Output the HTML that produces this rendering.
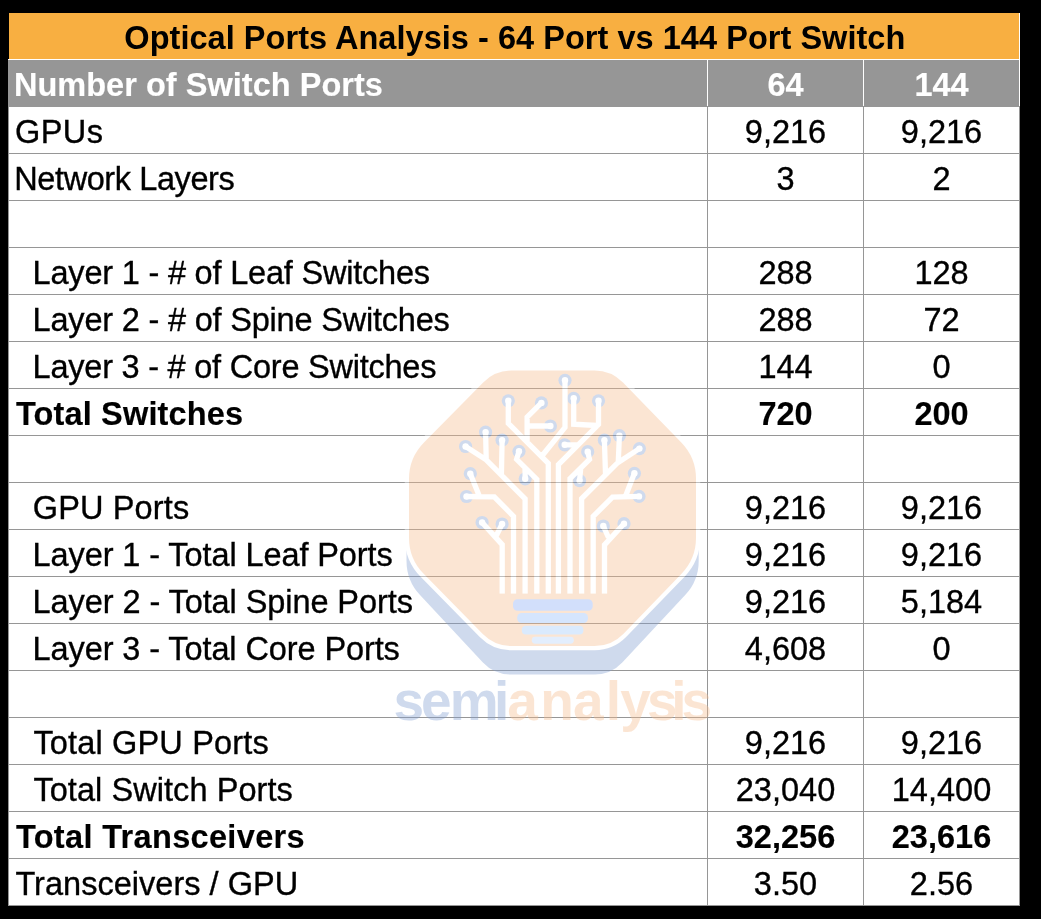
<!DOCTYPE html>
<html><head><meta charset="utf-8"><title>Optical Ports Analysis</title>
<style>
html,body{margin:0;padding:0;background:#000;}
body{width:1041px;height:919px;position:relative;overflow:hidden;font-family:"Liberation Sans",sans-serif;color:#000;}
#sheet{position:absolute;left:8px;top:13px;width:1012px;height:893px;background:#fff;}
.r{position:absolute;left:0;width:1012px;height:47px;box-sizing:border-box;}
.c{position:absolute;top:0;height:47px;line-height:52px;font-size:32.5px;white-space:nowrap;-webkit-text-stroke:0.35px currentColor;}
.c1{left:0;width:699px;box-sizing:border-box;}
.c2{left:700px;width:155px;text-align:center;}
.c3{left:856px;width:155px;text-align:center;}
.b .c{font-weight:bold;-webkit-text-stroke:0.15px currentColor;}
#title{top:0;left:1px;width:1011px;height:46px;background:#f8af41;text-align:center;font-weight:bold;font-size:32.5px;line-height:51px;white-space:nowrap;}
#hdr{top:47px;height:46px;background:#969696;color:#fff;}
#hdr .c{-webkit-text-stroke:0.15px currentColor;font-weight:bold;line-height:51px;height:46px;}
.hl{position:absolute;left:0;width:1012px;height:1px;background:#969696;}
.vl{position:absolute;top:93px;width:1px;height:800px;background:#969696;}
.wl{position:absolute;background:#fff;}
#wm{position:absolute;left:0;top:0;}
</style></head><body>
<div id="sheet">
<div class="r" id="title"><span style="position:relative;left:0.37px;letter-spacing:0.038px">Optical Ports Analysis - 64 Port vs 144 Port Switch</span></div>
<div class="r" id="hdr"><div class="c c1" style="padding-left:5.94px;letter-spacing:0.026px">Number of Switch Ports</div><div class="c c2">64</div><div class="c c3">144</div></div>
<div class="r" style="top:93px"><div class="c c1" style="padding-left:6.97px;letter-spacing:0.474px">GPUs</div><div class="c c2">9,216</div><div class="c c3">9,216</div></div>
<div class="r" style="top:140px"><div class="c c1" style="padding-left:6.3px;letter-spacing:-0.409px">Network Layers</div><div class="c c2">3</div><div class="c c3">2</div></div>
<div class="r" style="top:187px"><div class="c c1" style="padding-left:7px"></div><div class="c c2"></div><div class="c c3"></div></div>
<div class="r" style="top:234px"><div class="c c1" style="padding-left:24.62px;letter-spacing:-0.2px">Layer 1 - # of Leaf Switches</div><div class="c c2">288</div><div class="c c3">128</div></div>
<div class="r" style="top:281px"><div class="c c1" style="padding-left:24.62px;letter-spacing:-0.196px">Layer 2 - # of Spine Switches</div><div class="c c2">288</div><div class="c c3">72</div></div>
<div class="r" style="top:328px"><div class="c c1" style="padding-left:24.62px;letter-spacing:-0.229px">Layer 3 - # of Core Switches</div><div class="c c2">144</div><div class="c c3">0</div></div>
<div class="r b" style="top:375px"><div class="c c1" style="padding-left:7.92px;letter-spacing:0.159px">Total Switches</div><div class="c c2">720</div><div class="c c3">200</div></div>
<div class="r" style="top:422px"><div class="c c1" style="padding-left:7px"></div><div class="c c2"></div><div class="c c3"></div></div>
<div class="r" style="top:469px"><div class="c c1" style="padding-left:24.82px;letter-spacing:0.129px">GPU Ports</div><div class="c c2">9,216</div><div class="c c3">9,216</div></div>
<div class="r" style="top:516px"><div class="c c1" style="padding-left:24.62px;letter-spacing:-0.095px">Layer 1 - Total Leaf Ports</div><div class="c c2">9,216</div><div class="c c3">9,216</div></div>
<div class="r" style="top:563px"><div class="c c1" style="padding-left:24.62px;letter-spacing:-0.081px">Layer 2 - Total Spine Ports</div><div class="c c2">9,216</div><div class="c c3">5,184</div></div>
<div class="r" style="top:610px"><div class="c c1" style="padding-left:24.62px;letter-spacing:-0.098px">Layer 3 - Total Core Ports</div><div class="c c2">4,608</div><div class="c c3">0</div></div>
<div class="r" style="top:657px"><div class="c c1" style="padding-left:7px"></div><div class="c c2"></div><div class="c c3"></div></div>
<div class="r" style="top:704px"><div class="c c1" style="padding-left:25.42px;letter-spacing:0.161px">Total GPU Ports</div><div class="c c2">9,216</div><div class="c c3">9,216</div></div>
<div class="r" style="top:751px"><div class="c c1" style="padding-left:25.42px;letter-spacing:0.063px">Total Switch Ports</div><div class="c c2">23,040</div><div class="c c3">14,400</div></div>
<div class="r b" style="top:798px"><div class="c c1" style="padding-left:7.92px;letter-spacing:0.335px">Total Transceivers</div><div class="c c2">32,256</div><div class="c c3">23,616</div></div>
<div class="r" style="top:845px"><div class="c c1" style="padding-left:7.42px;letter-spacing:0.026px">Transceivers / GPU</div><div class="c c2">3.50</div><div class="c c3">2.56</div></div>
<div class="hl" style="top:93px"></div><div class="hl" style="top:140px"></div><div class="hl" style="top:187px"></div><div class="hl" style="top:234px"></div><div class="hl" style="top:281px"></div><div class="hl" style="top:328px"></div><div class="hl" style="top:375px"></div><div class="hl" style="top:422px"></div><div class="hl" style="top:469px"></div><div class="hl" style="top:516px"></div><div class="hl" style="top:563px"></div><div class="hl" style="top:610px"></div><div class="hl" style="top:657px"></div><div class="hl" style="top:704px"></div><div class="hl" style="top:751px"></div><div class="hl" style="top:798px"></div><div class="hl" style="top:845px"></div><div class="hl" style="top:892px"></div>
<div class="vl" style="left:0"></div><div class="vl" style="left:699px"></div><div class="vl" style="left:855px"></div><div class="vl" style="left:1011px"></div>
<div class="wl" style="left:0;top:46px;width:1012px;height:1px"></div><div class="wl" style="left:699px;top:47px;width:1px;height:46px"></div><div class="wl" style="left:855px;top:47px;width:1px;height:46px"></div><div class="wl" style="left:1011px;top:0;width:1px;height:93px"></div><div class="wl" style="left:0;top:0;width:1px;height:46px;background:#000"></div>
<svg id="wm" width="1012" height="893" viewBox="8 13 1012 893">
<g opacity="0.38">
<path d="M483.2 406.5 A40 40 0 0 1 511.3 395.0 L594.7 395.0 A40 40 0 0 1 622.9 406.6 L684.0 467.3 A50 50 0 0 1 698.7 502.8 L698.7 561.0 A50 50 0 0 1 685.2 595.1 L622.3 662.5 A38 38 0 0 1 594.5 674.5 L510.7 674.5 A38 38 0 0 1 482.9 662.5 L420.0 595.1 A50 50 0 0 1 406.5 561.0 L406.5 502.9 A50 50 0 0 1 421.4 467.3 Z" fill="#83a0d2"/>
<path d="M483.2 382.4 A40 40 0 0 1 511.6 370.5 L594.3 370.5 A40 40 0 0 1 623.0 382.6 L681.3 442.5 A52 52 0 0 1 696.0 478.7 L696.0 537.8 A52 52 0 0 1 681.3 574.0 L623.3 633.9 A40 40 0 0 1 594.6 646.0 L511.4 646.0 A40 40 0 0 1 482.8 634.0 L423.9 574.1 A52 52 0 0 1 409.0 537.6 L409.0 478.9 A52 52 0 0 1 424.0 442.4 Z" fill="#fff" stroke="#fff" stroke-width="8.5" stroke-linejoin="round"/>
<path d="M483.2 382.4 A40 40 0 0 1 511.6 370.5 L594.3 370.5 A40 40 0 0 1 623.0 382.6 L681.3 442.5 A52 52 0 0 1 696.0 478.7 L696.0 537.8 A52 52 0 0 1 681.3 574.0 L623.3 633.9 A40 40 0 0 1 594.6 646.0 L511.4 646.0 A40 40 0 0 1 482.8 634.0 L423.9 574.1 A52 52 0 0 1 409.0 537.6 L409.0 478.9 A52 52 0 0 1 424.0 442.4 Z" fill="#f7bd8e"/>
<g fill="#83a0d2"><circle cx="508.3" cy="400.8" r="6.6"/><circle cx="565.0" cy="380.3" r="6.6"/><circle cx="541.4" cy="402.9" r="6.6"/><circle cx="550.4" cy="426.0" r="6.6"/><circle cx="598.5" cy="400.8" r="6.6"/><circle cx="573.7" cy="398.3" r="6.6"/><circle cx="564.7" cy="444.8" r="6.6"/><circle cx="519.0" cy="451.3" r="6.6"/><circle cx="525.2" cy="478.8" r="6.6"/><circle cx="465.6" cy="446.5" r="6.6"/><circle cx="485.6" cy="432.1" r="6.6"/><circle cx="502.1" cy="440.2" r="6.6"/><circle cx="466.5" cy="496.5" r="6.6"/><circle cx="470.3" cy="473.7" r="6.6"/><circle cx="482.1" cy="522.5" r="6.6"/><circle cx="502.1" cy="524.0" r="6.6"/><circle cx="587.7" cy="451.7" r="6.6"/><circle cx="579.6" cy="480.6" r="6.6"/><circle cx="639.4" cy="448.6" r="6.6"/><circle cx="619.4" cy="435.6" r="6.6"/><circle cx="604.4" cy="440.2" r="6.6"/><circle cx="639.0" cy="496.4" r="6.6"/><circle cx="634.4" cy="473.3" r="6.6"/><circle cx="624.0" cy="523.7" r="6.6"/><circle cx="603.3" cy="526.0" r="6.6"/></g>
<g fill="#fff"><circle cx="508.3" cy="400.8" r="3.2"/><circle cx="565.0" cy="380.3" r="3.2"/><circle cx="541.4" cy="402.9" r="3.2"/><circle cx="550.4" cy="426.0" r="3.2"/><circle cx="598.5" cy="400.8" r="3.2"/><circle cx="573.7" cy="398.3" r="3.2"/><circle cx="564.7" cy="444.8" r="3.2"/><circle cx="519.0" cy="451.3" r="3.2"/><circle cx="525.2" cy="478.8" r="3.2"/><circle cx="465.6" cy="446.5" r="3.2"/><circle cx="485.6" cy="432.1" r="3.2"/><circle cx="502.1" cy="440.2" r="3.2"/><circle cx="466.5" cy="496.5" r="3.2"/><circle cx="470.3" cy="473.7" r="3.2"/><circle cx="482.1" cy="522.5" r="3.2"/><circle cx="502.1" cy="524.0" r="3.2"/><circle cx="587.7" cy="451.7" r="3.2"/><circle cx="579.6" cy="480.6" r="3.2"/><circle cx="639.4" cy="448.6" r="3.2"/><circle cx="619.4" cy="435.6" r="3.2"/><circle cx="604.4" cy="440.2" r="3.2"/><circle cx="639.0" cy="496.4" r="3.2"/><circle cx="634.4" cy="473.3" r="3.2"/><circle cx="624.0" cy="523.7" r="3.2"/><circle cx="603.3" cy="526.0" r="3.2"/></g>
<path d="M508.3 400.8 L508.3 423.3 L548.3 463.3 L548.3 593.6 M565.0 380.3 L565.0 427.4 L542.3 455.5 M541.4 402.9 L527.1 417.0 L527.1 441.5 M550.4 426.0 L527.1 426.0 M598.5 400.8 L598.5 424.5 L558.4 464.6 L558.4 593.6 M573.7 398.3 L573.7 424.2 L597.0 425.5 M564.7 444.8 L577.5 444.8 M519.0 451.3 L516.6 459.3 L536.8 479.3 L536.8 593.6 M525.2 478.8 L525.0 468.0 M465.6 446.5 L486.2 459.8 L525.1 498.8 L525.1 593.6 M485.6 432.1 L486.2 459.0 M502.1 440.2 L501.4 474.5 M466.5 496.5 L494.3 496.8 L513.5 516.4 L513.5 593.6 M470.3 473.7 L479.3 496.0 M482.1 522.5 L502.2 544.6 L502.2 593.6 M502.1 524.0 L496.4 535.5 M587.7 451.7 L589.5 459.3 L570.0 478.5 L570.0 593.6 M579.6 480.6 L580.6 469.5 M639.4 448.6 L617.7 462.7 L581.6 498.6 L581.6 593.6 M619.4 435.6 L618.3 461.5 M604.4 440.2 L605.5 474.0 M639.0 496.4 L612.5 497.2 L593.2 516.4 L593.2 593.6 M634.4 473.3 L625.8 495.5 M624.0 523.7 L604.5 544.9 L604.5 593.6 M603.3 526.0 L608.0 536.5" fill="none" stroke="#fff" stroke-width="5.3" stroke-linecap="round" stroke-linejoin="miter"/>
<g fill="#f7bd8e"><rect x="495" y="593.6" width="116" height="4"/></g>
<rect x="513" y="599.2" width="79.7" height="11.5" rx="4.5" fill="#8badf7"/>
<rect x="517.2" y="613" width="70.8" height="10" rx="4.5" fill="#93bdfa"/>
<rect x="521.8" y="625.8" width="61.6" height="8.7" rx="4" fill="#a0cafa"/>
<rect x="531.8" y="636.8" width="42" height="6.9" rx="3.4" fill="#b8d5fa"/>
<text x="393.5 420.9 449.8 494.1" y="720.3" font-family="Liberation Sans, sans-serif" font-weight="bold" font-size="55" fill="#83a0d2">semi</text>
<text x="507.2 540.3 572.9 605.8 620.2 647 671.2 681.5" y="720.3" font-family="Liberation Sans, sans-serif" font-weight="bold" font-size="55" fill="#f7bd8e">analysis</text>
</g>
</svg>
</div></body></html>
